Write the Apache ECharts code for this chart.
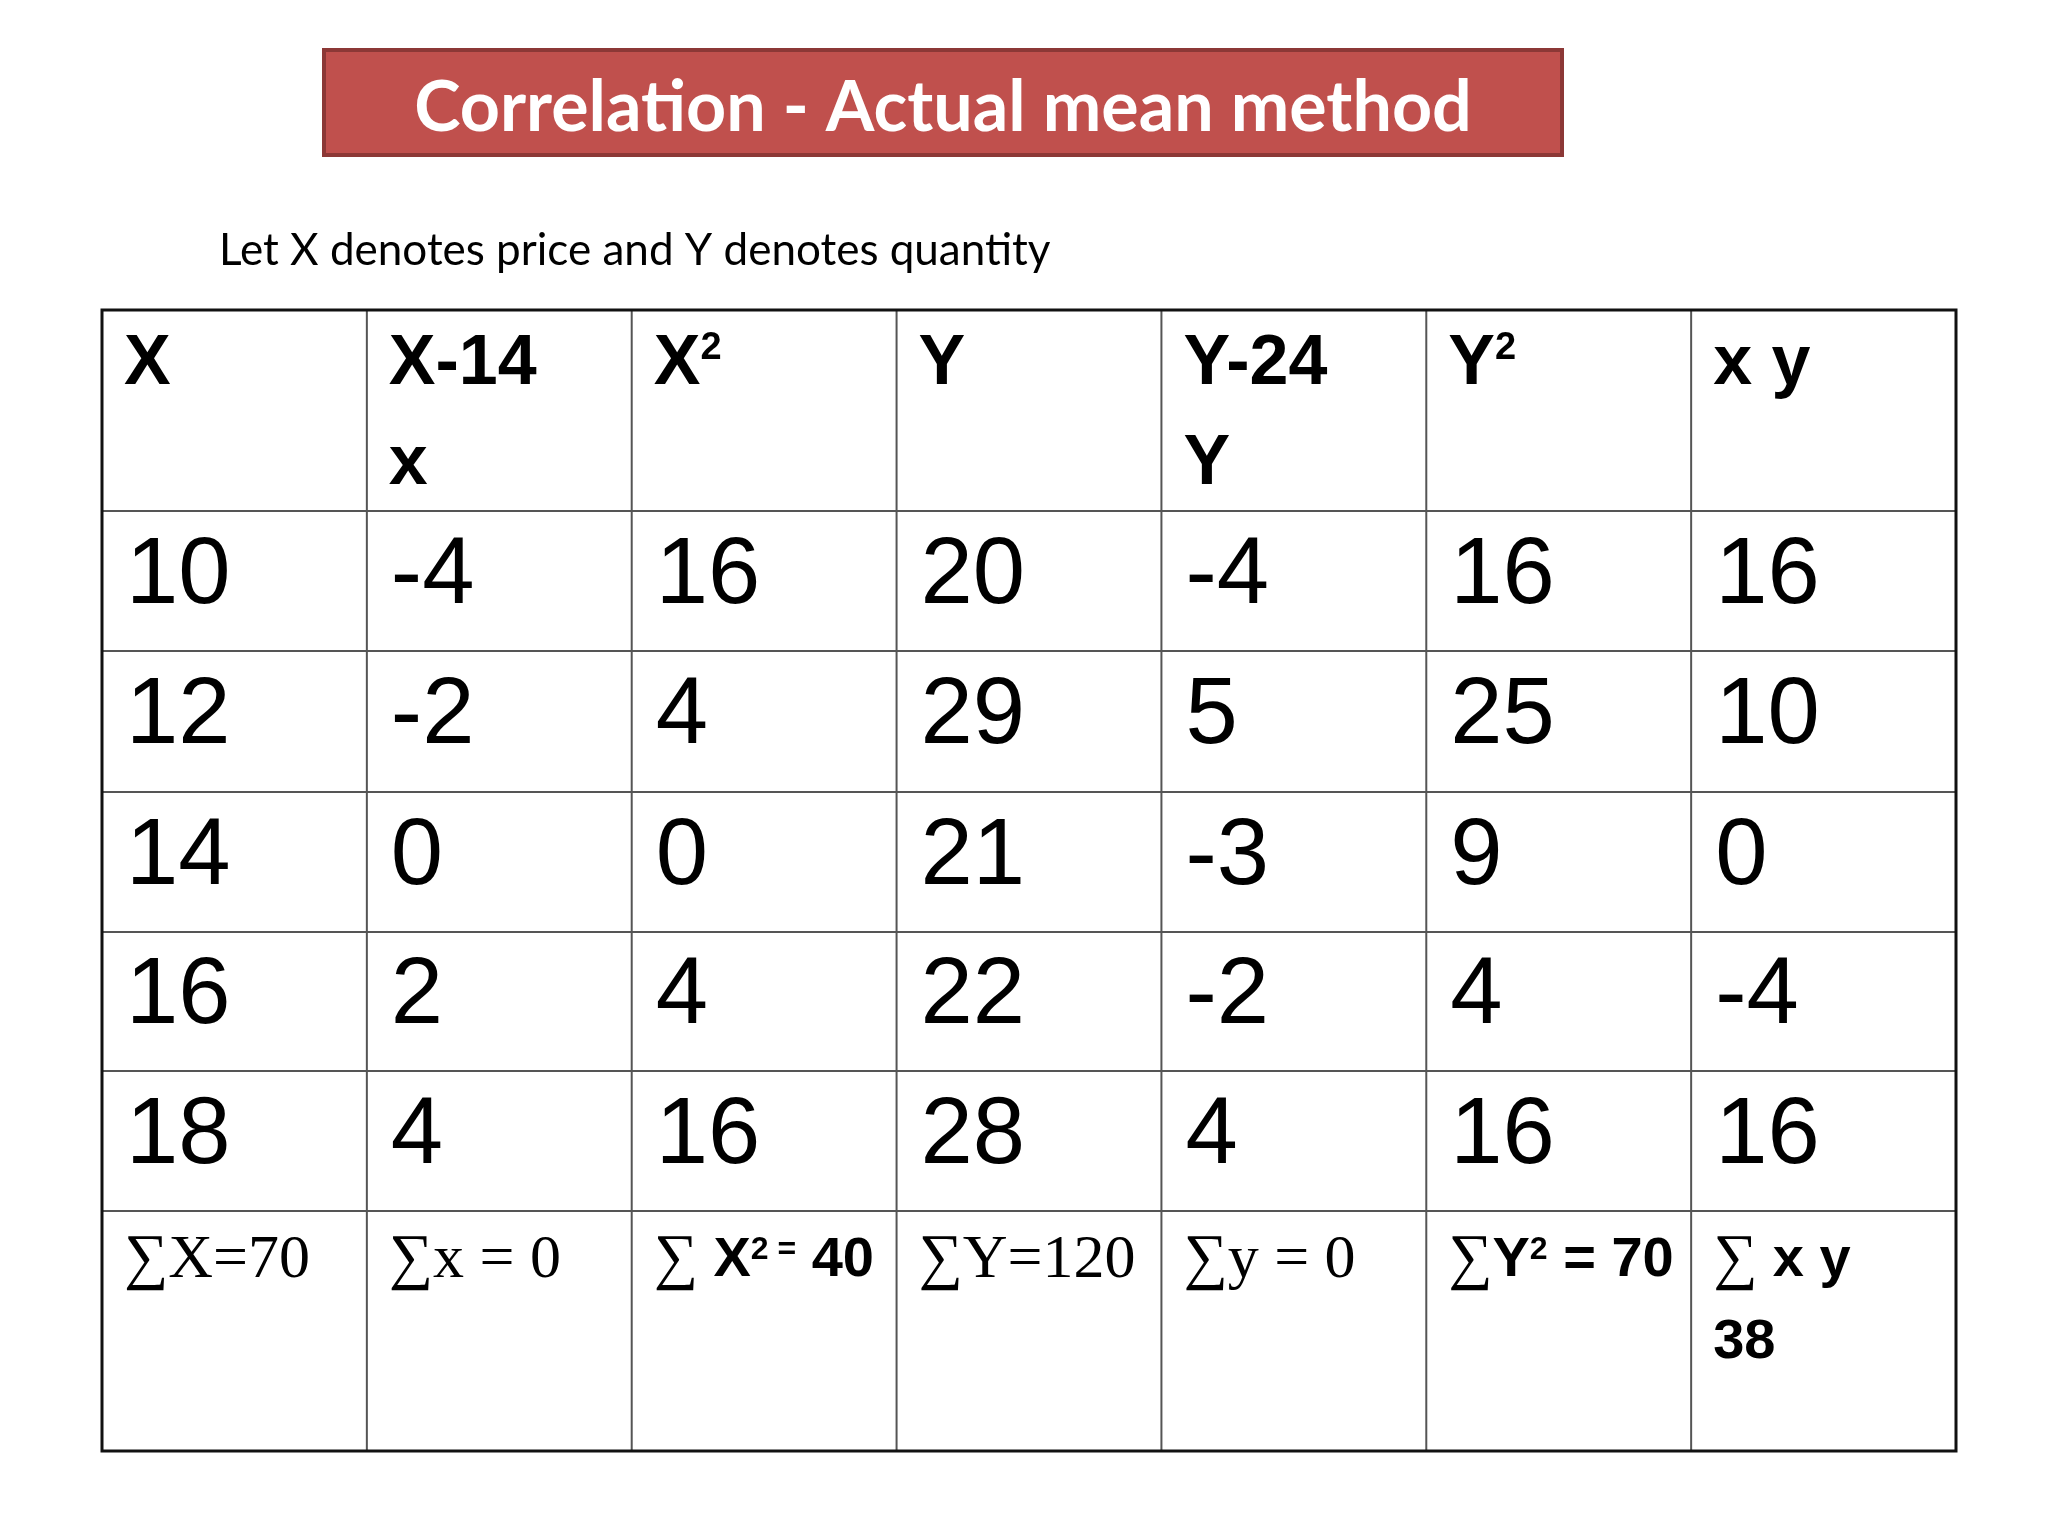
<!DOCTYPE html>
<html>
<head>
<meta charset="utf-8">
<script src="https://cdn.jsdelivr.net/npm/echarts@6/dist/echarts.min.js"></script>
<style>html,body{margin:0;padding:0;background:#fff}#main{width:2048px;height:1536px}</style>
</head>
<body>
<div id="main"></div>
<script>
const titleText = 'Correlation - Actual mean method';
const subtitleText = 'Let X denotes price and Y denotes quantity';
// header cells: [line1, line2], rich markup
const headers = [['X', ''], ['X-14', 'x'], ['X{sup|2}', ''], ['Y', ''], ['Y-24', 'Y'], ['Y{sup|2}', ''], ['x y', '']];
const colX = [10, 12, 14, 16, 18];
const colDevX = [-4, -2, 0, 2, 4];
const colX2 = [16, 4, 0, 4, 16];
const colY = [20, 29, 21, 22, 28];
const colDevY = [-4, 5, -3, -2, 4];
const colY2 = [16, 25, 9, 4, 16];
const colXY = [16, 10, 0, -4, 16];
const sums = [
  ['{ser|∑X=70}', ''],
  ['{ser|∑x = 0}', ''],
  ['{ser|∑ }{b|X}{bs|2 =}{b| 40}', ''],
  ['{ser|∑Y=120}', ''],
  ['{ser|∑y = 0}', ''],
  ['{ser|∑}{b|Y}{bs|2}{b| = 70}', ''],
  ['{ser|∑ }{b|x y}', '{b|38}']
];

const columns = [colX, colDevX, colX2, colY, colDevY, colY2, colXY];

const left = 102, right = 1956;
const rowEdges = [310, 511, 651, 792, 932, 1071, 1211, 1451];
const colW = (right - left) / 7;

const chart = echarts.init(document.getElementById('main'));
const els = [];

// title box
els.push({ type: 'rect', shape: { x: 324, y: 50, width: 1238, height: 105 },
  style: { fill: '#C0504D', stroke: '#8C3836', lineWidth: 4 } });
els.push({ type: 'text', x: 943, y: 108, style: { text: titleText, fill: '#fff',
  font: 'bold 70px Lato, "Open Sans", sans-serif', align: 'center', verticalAlign: 'middle' } });
els.push({ type: 'text', x: 219, y: 251, style: { text: subtitleText, fill: '#000',
  font: '44px Lato, "Open Sans", sans-serif', align: 'left', verticalAlign: 'middle' } });

const headRich = {
  h: { fontFamily: 'Liberation Sans, Arial', fontWeight: 'bold', fontSize: 70, fill: '#000' },
  sup: { fontFamily: 'Liberation Sans, Arial', fontWeight: 'bold', fontSize: 38, fill: '#000', verticalAlign: 'top', padding: [0, 0, 26, 0] }
};
const sumRich = {
  ser: { fontFamily: 'Liberation Serif, "Times New Roman"', fontSize: 62, fill: '#000' },
  b: { fontFamily: 'Liberation Sans, Arial', fontWeight: 'bold', fontSize: 56, fill: '#000' },
  bs: { fontFamily: 'Liberation Sans, Arial', fontWeight: 'bold', fontSize: 32, fill: '#000', padding: [0, 0, 22, 0] }
};

function wrapHead(s) {
  return s.split(/(\{sup\|[^}]*\})/).filter(Boolean).map(p => p.startsWith('{sup') ? p : '{h|' + p + '}').join('');
}

for (let c = 0; c < 7; c++) {
  const tx = left + c * colW + 22;
  // header
  headers[c].forEach((line, i) => {
    if (!line) return;
    els.push({ type: 'text', x: tx, y: 365 + i * 100, style: { text: wrapHead(line), rich: headRich, verticalAlign: 'middle', align: 'left' } });
  });
  // data rows
  columns[c].forEach((v, r) => {
    els.push({ type: 'text', x: tx + 2, y: (rowEdges[r + 1] + rowEdges[r + 2]) / 2 - 4,
      style: { text: String(v), fill: '#000', font: '94px "Liberation Sans", Arial, sans-serif', verticalAlign: 'middle', align: 'left' } });
  });
  // sums
  sums[c].forEach((line, i) => {
    if (!line) return;
    els.push({ type: 'text', x: tx, y: 1261 + i * 82, style: { text: line, rich: sumRich, verticalAlign: 'middle', align: 'left' } });
  });
}

// grid lines
for (let r = 1; r < rowEdges.length - 1; r++) {
  els.push({ type: 'line', shape: { x1: left, y1: rowEdges[r], x2: right, y2: rowEdges[r] }, style: { stroke: '#555', lineWidth: 2 } });
}
for (let c = 1; c < 7; c++) {
  const x = left + c * colW;
  els.push({ type: 'line', shape: { x1: x, y1: rowEdges[0], x2: x, y2: rowEdges[7] }, style: { stroke: '#555', lineWidth: 2 } });
}
els.push({ type: 'rect', shape: { x: left, y: rowEdges[0], width: right - left, height: rowEdges[7] - rowEdges[0] },
  style: { fill: 'none', stroke: '#111', lineWidth: 3 } });

chart.setOption({ backgroundColor: '#fff', animation: false, graphic: { elements: els } });
</script>
</body>
</html>
